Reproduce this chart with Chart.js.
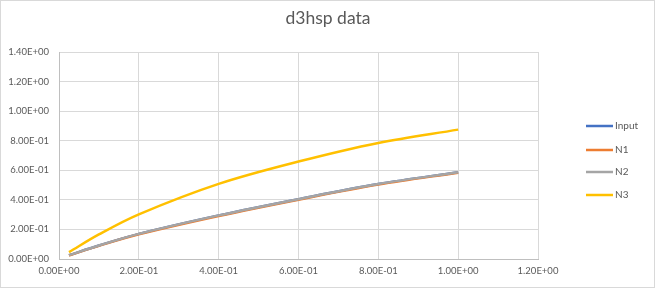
<!DOCTYPE html>
<html>
<head>
<meta charset="utf-8">
<script src="https://cdn.jsdelivr.net/npm/chart.js@4"></script>
<style>
html,body{margin:0;padding:0;background:#fff;}
#wrap{width:655px;height:288px;position:relative;}
</style>
</head>
<body>
<div id="wrap"><canvas id="c" width="655" height="288"></canvas></div>
<script>
const xValues = [0.025, 0.1, 0.2, 0.4, 0.6, 0.8, 1.0];
const inputValues = [0.026, 0.091, 0.170, 0.295, 0.405, 0.507, 0.587];
const n1Values = [0.024, 0.089, 0.167, 0.291, 0.401, 0.503, 0.584];
const n2Values = [0.026, 0.091, 0.170, 0.295, 0.405, 0.507, 0.587];
const n3Values = [0.046, 0.166, 0.302, 0.508, 0.659, 0.785, 0.875];
const seriesNames = ['Input', 'N1', 'N2', 'N3'];
const seriesColors = ['#4472C4', '#ED7D31', '#A5A5A5', '#FFC000'];
const xTicks = [0, 0.2, 0.4, 0.6, 0.8, 1.0, 1.2];
const yTicks = [0, 0.2, 0.4, 0.6, 0.8, 1.0, 1.2, 1.4];
const titleText = 'd3hsp data';

function sci(v) {
  if (Math.abs(v) < 1e-12) return '0.00E+00';
  let e = Math.floor(Math.log10(Math.abs(v)) + 1e-9);
  let m = v / Math.pow(10, e);
  const sign = e < 0 ? '-' : '+';
  const ea = Math.abs(e);
  return m.toFixed(2) + 'E' + sign + (ea < 10 ? '0' + ea : '' + ea);
}

const allSeries = [inputValues, n1Values, n2Values, n3Values];
const datasets = allSeries.map((vals, i) => ({
  label: seriesNames[i],
  data: xValues.map((x, j) => ({x: x, y: vals[j]})),
  borderColor: seriesColors[i],
  backgroundColor: seriesColors[i],
  borderWidth: 2.5,
  pointRadius: 0,
  fill: false,
  showLine: true,
  order: allSeries.length - i,
  tension: 0.35
}));

const FONT = 'Lato, "Open Sans", sans-serif';
const TXT = '#595959';

const decorPlugin = {
  id: 'decor',
  afterDraw(chart) {
    const ctx = chart.ctx;
    ctx.save();
    ctx.fillStyle = TXT;
    ctx.font = '17.5px ' + FONT;
    ctx.textAlign = 'center';
    ctx.textBaseline = 'middle';
    ctx.fillText(titleText, 328, 18);
    const ys = [126, 150, 172, 195];
    seriesNames.forEach((n, i) => {
      ctx.strokeStyle = seriesColors[i];
      ctx.lineWidth = 2.5;
      ctx.beginPath();
      ctx.moveTo(586, ys[i]);
      ctx.lineTo(613, ys[i]);
      ctx.stroke();
      ctx.fillStyle = TXT;
      ctx.font = '10px ' + FONT;
      ctx.textBaseline = 'middle';
      ctx.textAlign = 'left';
      ctx.fillText(n, 615, ys[i]);
    });
    ctx.strokeStyle = '#D9D9D9';
    ctx.lineWidth = 1;
    ctx.strokeRect(0.5, 0.5, 654, 287);
    ctx.restore();
  }
};

new Chart(document.getElementById('c'), {
  type: 'scatter',
  data: { datasets: datasets },
  options: {
    responsive: false,
    animation: false,
    devicePixelRatio: 1,
    layout: { padding: { left: 0, right: 117, top: 52, bottom: 0 } },
    plugins: {
      legend: { display: false },
      tooltip: { enabled: false },
      title: { display: false }
    },
    scales: {
      x: {
        type: 'linear',
        min: 0, max: 1.2,
        afterBuildTicks: s => { s.ticks = xTicks.map(v => ({value: v})); },
        afterFit: s => { s.height = 29; },
        ticks: { color: TXT, font: { family: FONT, size: 9.5 }, padding: 6, maxRotation: 0, callback: v => sci(v) },
        grid: { color: '#D9D9D9', drawTicks: false },
        border: { color: '#BFBFBF' }
      },
      y: {
        type: 'linear',
        min: 0, max: 1.4,
        afterBuildTicks: s => { s.ticks = yTicks.map(v => ({value: v})); },
        afterFit: s => { s.width = 59; },
        ticks: { color: TXT, font: { family: FONT, size: 9.5 }, padding: 10, callback: v => sci(v) },
        grid: { color: '#D9D9D9', drawTicks: false },
        border: { color: '#BFBFBF' }
      }
    }
  },
  plugins: [decorPlugin]
});
</script>
</body>
</html>
